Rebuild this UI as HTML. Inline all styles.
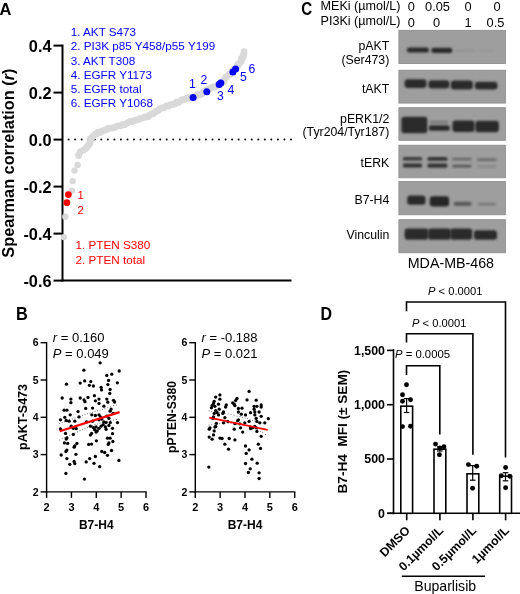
<!DOCTYPE html>
<html><head><meta charset="utf-8"><style>
html,body{margin:0;padding:0;background:#fff;}
svg{display:block;font-family:"Liberation Sans",Arial,sans-serif;}
</style></head><body>
<svg width="520" height="594" viewBox="0 0 520 594">
<rect width="520" height="594" fill="#fff"/>
<text x="-0.4" y="15.1" font-size="16.5" font-weight="bold" >A</text>
<line x1="62.5" y1="44.6" x2="62.5" y2="281.5" stroke="#000" stroke-width="2" />
<line x1="61.5" y1="280.6" x2="291.5" y2="280.6" stroke="#000" stroke-width="2" />
<line x1="53.5" y1="45.6" x2="62.5" y2="45.6" stroke="#000" stroke-width="2" />
<text x="51.5" y="51.7" font-size="16.3" font-weight="bold" text-anchor="end" >0.4</text>
<line x1="53.5" y1="92.6" x2="62.5" y2="92.6" stroke="#000" stroke-width="2" />
<text x="51.5" y="98.69999999999999" font-size="16.3" font-weight="bold" text-anchor="end" >0.2</text>
<line x1="53.5" y1="139.6" x2="62.5" y2="139.6" stroke="#000" stroke-width="2" />
<text x="51.5" y="145.7" font-size="16.3" font-weight="bold" text-anchor="end" >0.0</text>
<line x1="53.5" y1="186.6" x2="62.5" y2="186.6" stroke="#000" stroke-width="2" />
<text x="51.5" y="192.7" font-size="16.3" font-weight="bold" text-anchor="end" >-0.2</text>
<line x1="53.5" y1="233.6" x2="62.5" y2="233.6" stroke="#000" stroke-width="2" />
<text x="51.5" y="239.7" font-size="16.3" font-weight="bold" text-anchor="end" >-0.4</text>
<line x1="53.5" y1="280.6" x2="62.5" y2="280.6" stroke="#000" stroke-width="2" />
<text x="51.5" y="286.70000000000005" font-size="16.3" font-weight="bold" text-anchor="end" >-0.6</text>
<text transform="translate(13.8,163.1) rotate(-90)" font-size="16.3" font-weight="bold" text-anchor="middle">Spearman correlation (<tspan font-style="italic">r</tspan>)</text>
<circle cx="68.6" cy="139.6" r="1.0" fill="#000"/>
<circle cx="75.1" cy="139.6" r="1.0" fill="#000"/>
<circle cx="81.7" cy="139.6" r="1.0" fill="#000"/>
<circle cx="88.2" cy="139.6" r="1.0" fill="#000"/>
<circle cx="94.8" cy="139.6" r="1.0" fill="#000"/>
<circle cx="101.3" cy="139.6" r="1.0" fill="#000"/>
<circle cx="107.8" cy="139.6" r="1.0" fill="#000"/>
<circle cx="114.4" cy="139.6" r="1.0" fill="#000"/>
<circle cx="120.9" cy="139.6" r="1.0" fill="#000"/>
<circle cx="127.5" cy="139.6" r="1.0" fill="#000"/>
<circle cx="134.0" cy="139.6" r="1.0" fill="#000"/>
<circle cx="140.5" cy="139.6" r="1.0" fill="#000"/>
<circle cx="147.1" cy="139.6" r="1.0" fill="#000"/>
<circle cx="153.6" cy="139.6" r="1.0" fill="#000"/>
<circle cx="160.2" cy="139.6" r="1.0" fill="#000"/>
<circle cx="166.7" cy="139.6" r="1.0" fill="#000"/>
<circle cx="173.2" cy="139.6" r="1.0" fill="#000"/>
<circle cx="179.8" cy="139.6" r="1.0" fill="#000"/>
<circle cx="186.3" cy="139.6" r="1.0" fill="#000"/>
<circle cx="192.9" cy="139.6" r="1.0" fill="#000"/>
<circle cx="199.4" cy="139.6" r="1.0" fill="#000"/>
<circle cx="205.9" cy="139.6" r="1.0" fill="#000"/>
<circle cx="212.5" cy="139.6" r="1.0" fill="#000"/>
<circle cx="219.0" cy="139.6" r="1.0" fill="#000"/>
<circle cx="225.6" cy="139.6" r="1.0" fill="#000"/>
<circle cx="232.1" cy="139.6" r="1.0" fill="#000"/>
<circle cx="238.6" cy="139.6" r="1.0" fill="#000"/>
<circle cx="245.2" cy="139.6" r="1.0" fill="#000"/>
<circle cx="251.7" cy="139.6" r="1.0" fill="#000"/>
<circle cx="258.3" cy="139.6" r="1.0" fill="#000"/>
<circle cx="264.8" cy="139.6" r="1.0" fill="#000"/>
<circle cx="271.3" cy="139.6" r="1.0" fill="#000"/>
<circle cx="277.9" cy="139.6" r="1.0" fill="#000"/>
<circle cx="284.4" cy="139.6" r="1.0" fill="#000"/>
<circle cx="291.0" cy="139.6" r="1.0" fill="#000"/>
<circle cx="63.9" cy="237.1" r="3.2" fill="#d9d9d9"/>
<circle cx="65.3" cy="216.7" r="3.2" fill="#d9d9d9"/>
<circle cx="71.9" cy="190.7" r="3.2" fill="#d9d9d9"/>
<circle cx="72.7" cy="181.1" r="3.2" fill="#d9d9d9"/>
<circle cx="74.5" cy="170.6" r="3.2" fill="#d9d9d9"/>
<circle cx="77.6" cy="165.0" r="3.2" fill="#d9d9d9"/>
<circle cx="78.6" cy="155.5" r="3.45" fill="#d9d9d9"/>
<circle cx="80.4" cy="151.7" r="3.45" fill="#d9d9d9"/>
<circle cx="83.2" cy="150.2" r="3.45" fill="#d9d9d9"/>
<circle cx="85.8" cy="148.4" r="3.45" fill="#d9d9d9"/>
<circle cx="87.2" cy="146.8" r="3.45" fill="#d9d9d9"/>
<circle cx="88.8" cy="144.7" r="3.45" fill="#d9d9d9"/>
<circle cx="90.2" cy="142.4" r="3.45" fill="#d9d9d9"/>
<circle cx="90.3" cy="139.2" r="3.45" fill="#d9d9d9"/>
<circle cx="91.5" cy="138.0" r="3.45" fill="#d9d9d9"/>
<circle cx="93.1" cy="136.0" r="3.45" fill="#d9d9d9"/>
<circle cx="95.3" cy="134.2" r="3.45" fill="#d9d9d9"/>
<circle cx="96.8" cy="133.5" r="3.45" fill="#d9d9d9"/>
<circle cx="98.1" cy="132.2" r="3.45" fill="#d9d9d9"/>
<circle cx="100.4" cy="132.3" r="3.45" fill="#d9d9d9"/>
<circle cx="102.3" cy="130.9" r="3.45" fill="#d9d9d9"/>
<circle cx="105.3" cy="129.9" r="3.45" fill="#d9d9d9"/>
<circle cx="107.6" cy="128.8" r="3.45" fill="#d9d9d9"/>
<circle cx="109.5" cy="128.3" r="3.45" fill="#d9d9d9"/>
<circle cx="112.7" cy="127.9" r="3.45" fill="#d9d9d9"/>
<circle cx="114.8" cy="127.3" r="3.45" fill="#d9d9d9"/>
<circle cx="117.4" cy="126.0" r="3.45" fill="#d9d9d9"/>
<circle cx="120.4" cy="125.8" r="3.45" fill="#d9d9d9"/>
<circle cx="122.2" cy="124.8" r="3.45" fill="#d9d9d9"/>
<circle cx="125.0" cy="124.5" r="3.45" fill="#d9d9d9"/>
<circle cx="127.7" cy="122.7" r="3.45" fill="#d9d9d9"/>
<circle cx="130.4" cy="121.5" r="3.45" fill="#d9d9d9"/>
<circle cx="132.2" cy="121.6" r="3.45" fill="#d9d9d9"/>
<circle cx="133.8" cy="120.6" r="3.45" fill="#d9d9d9"/>
<circle cx="135.6" cy="120.3" r="3.45" fill="#d9d9d9"/>
<circle cx="138.4" cy="119.5" r="3.45" fill="#d9d9d9"/>
<circle cx="140.5" cy="118.5" r="3.45" fill="#d9d9d9"/>
<circle cx="142.6" cy="118.1" r="3.45" fill="#d9d9d9"/>
<circle cx="144.8" cy="117.0" r="3.45" fill="#d9d9d9"/>
<circle cx="147.5" cy="116.9" r="3.45" fill="#d9d9d9"/>
<circle cx="149.0" cy="115.4" r="3.45" fill="#d9d9d9"/>
<circle cx="150.5" cy="114.4" r="3.45" fill="#d9d9d9"/>
<circle cx="153.2" cy="113.8" r="3.45" fill="#d9d9d9"/>
<circle cx="155.7" cy="111.5" r="3.45" fill="#d9d9d9"/>
<circle cx="157.4" cy="111.0" r="3.45" fill="#d9d9d9"/>
<circle cx="159.2" cy="109.5" r="3.45" fill="#d9d9d9"/>
<circle cx="161.8" cy="107.9" r="3.45" fill="#d9d9d9"/>
<circle cx="164.1" cy="107.8" r="3.45" fill="#d9d9d9"/>
<circle cx="166.6" cy="105.9" r="3.45" fill="#d9d9d9"/>
<circle cx="168.8" cy="106.1" r="3.45" fill="#d9d9d9"/>
<circle cx="170.3" cy="104.7" r="3.45" fill="#d9d9d9"/>
<circle cx="172.8" cy="104.6" r="3.45" fill="#d9d9d9"/>
<circle cx="175.0" cy="103.8" r="3.45" fill="#d9d9d9"/>
<circle cx="176.5" cy="102.3" r="3.45" fill="#d9d9d9"/>
<circle cx="178.7" cy="102.2" r="3.45" fill="#d9d9d9"/>
<circle cx="181.5" cy="100.2" r="3.45" fill="#d9d9d9"/>
<circle cx="182.7" cy="99.6" r="3.45" fill="#d9d9d9"/>
<circle cx="185.1" cy="99.3" r="3.45" fill="#d9d9d9"/>
<circle cx="187.8" cy="98.3" r="3.45" fill="#d9d9d9"/>
<circle cx="189.4" cy="97.8" r="3.45" fill="#d9d9d9"/>
<circle cx="192.1" cy="97.4" r="3.45" fill="#d9d9d9"/>
<circle cx="194.7" cy="96.8" r="3.45" fill="#d9d9d9"/>
<circle cx="196.0" cy="95.9" r="3.45" fill="#d9d9d9"/>
<circle cx="198.0" cy="94.1" r="3.45" fill="#d9d9d9"/>
<circle cx="200.1" cy="94.5" r="3.45" fill="#d9d9d9"/>
<circle cx="201.9" cy="93.7" r="3.45" fill="#d9d9d9"/>
<circle cx="203.2" cy="92.3" r="3.45" fill="#d9d9d9"/>
<circle cx="204.7" cy="91.8" r="3.45" fill="#d9d9d9"/>
<circle cx="206.5" cy="90.1" r="3.45" fill="#d9d9d9"/>
<circle cx="208.5" cy="89.3" r="3.45" fill="#d9d9d9"/>
<circle cx="210.5" cy="88.3" r="3.45" fill="#d9d9d9"/>
<circle cx="211.9" cy="87.5" r="3.45" fill="#d9d9d9"/>
<circle cx="213.8" cy="86.9" r="3.45" fill="#d9d9d9"/>
<circle cx="215.6" cy="86.8" r="3.45" fill="#d9d9d9"/>
<circle cx="218.1" cy="84.8" r="3.45" fill="#d9d9d9"/>
<circle cx="219.5" cy="84.2" r="3.45" fill="#d9d9d9"/>
<circle cx="221.2" cy="82.2" r="3.45" fill="#d9d9d9"/>
<circle cx="223.4" cy="82.0" r="3.45" fill="#d9d9d9"/>
<circle cx="224.5" cy="79.6" r="3.45" fill="#d9d9d9"/>
<circle cx="225.7" cy="77.4" r="3.45" fill="#d9d9d9"/>
<circle cx="227.5" cy="76.1" r="3.45" fill="#d9d9d9"/>
<circle cx="229.7" cy="74.3" r="3.45" fill="#d9d9d9"/>
<circle cx="230.3" cy="74.0" r="3.45" fill="#d9d9d9"/>
<circle cx="232.5" cy="71.1" r="3.45" fill="#d9d9d9"/>
<circle cx="234.0" cy="69.2" r="3.45" fill="#d9d9d9"/>
<circle cx="235.4" cy="69.0" r="3.45" fill="#d9d9d9"/>
<circle cx="237.2" cy="66.8" r="3.45" fill="#d9d9d9"/>
<circle cx="237.9" cy="64.5" r="3.45" fill="#d9d9d9"/>
<circle cx="239.2" cy="63.4" r="3.45" fill="#d9d9d9"/>
<circle cx="241.0" cy="61.6" r="3.45" fill="#d9d9d9"/>
<circle cx="241.4" cy="58.8" r="3.45" fill="#d9d9d9"/>
<circle cx="242.6" cy="58.1" r="3.45" fill="#d9d9d9"/>
<circle cx="243.3" cy="55.9" r="3.45" fill="#d9d9d9"/>
<circle cx="243.9" cy="53.9" r="3.45" fill="#d9d9d9"/>
<circle cx="244.1" cy="51.6" r="3.3" fill="#d9d9d9"/>
<circle cx="68.4" cy="194.6" r="3.4" fill="#ff0000"/>
<circle cx="66.9" cy="202.7" r="3.4" fill="#ff0000"/>
<text x="77.5" y="198.7" font-size="11.3" fill="#ff0000" >1</text>
<text x="77.5" y="213.6" font-size="11.3" fill="#ff0000" >2</text>
<circle cx="193.1" cy="97.6" r="3.5" fill="#0000ff"/>
<circle cx="206.8" cy="91.8" r="3.5" fill="#0000ff"/>
<circle cx="219.2" cy="84.6" r="3.5" fill="#0000ff"/>
<circle cx="220.8" cy="83.0" r="3.5" fill="#0000ff"/>
<circle cx="232.9" cy="71.9" r="3.5" fill="#0000ff"/>
<circle cx="235.6" cy="69.0" r="3.5" fill="#0000ff"/>
<text x="192.4" y="88.3" font-size="12.2" text-anchor="middle" fill="#0000ff" >1</text>
<text x="204" y="84.3" font-size="12.2" text-anchor="middle" fill="#0000ff" >2</text>
<text x="220.4" y="99.7" font-size="12.2" text-anchor="middle" fill="#0000ff" >3</text>
<text x="231" y="93.5" font-size="12.2" text-anchor="middle" fill="#0000ff" >4</text>
<text x="243.5" y="80.6" font-size="12.2" text-anchor="middle" fill="#0000ff" >5</text>
<text x="252" y="72.7" font-size="12.2" text-anchor="middle" fill="#0000ff" >6</text>
<text x="70.7" y="36.3" font-size="11.7" fill="#0000ff" >1. AKT S473</text>
<text x="70.7" y="50.449999999999996" font-size="11.7" fill="#0000ff" >2. PI3K p85 Y458/p55 Y199</text>
<text x="70.7" y="64.6" font-size="11.7" fill="#0000ff" >3. AKT T308</text>
<text x="70.7" y="78.75" font-size="11.7" fill="#0000ff" >4. EGFR Y1173</text>
<text x="70.7" y="92.9" font-size="11.7" fill="#0000ff" >5. EGFR total</text>
<text x="70.7" y="107.05" font-size="11.7" fill="#0000ff" >6. EGFR Y1068</text>
<text x="75.5" y="249.2" font-size="11.7" fill="#ff0000" >1. PTEN S380</text>
<text x="75.5" y="264.1" font-size="11.7" fill="#ff0000" >2. PTEN total</text>
<text transform="translate(15.9,319.6) scale(1.05,1.2)" font-size="15.5" font-weight="bold">B</text>
<line x1="46.6" y1="342.0" x2="46.6" y2="492.59999999999997" stroke="#000" stroke-width="1.4" />
<line x1="45.9" y1="491.9" x2="146.7" y2="491.9" stroke="#000" stroke-width="1.4" />
<line x1="40.6" y1="342.7" x2="46.6" y2="342.7" stroke="#000" stroke-width="1.4" />
<text x="38.6" y="346.4" font-size="10.5" font-weight="bold" text-anchor="end" >6</text>
<line x1="40.6" y1="380.0" x2="46.6" y2="380.0" stroke="#000" stroke-width="1.4" />
<text x="38.6" y="383.7" font-size="10.5" font-weight="bold" text-anchor="end" >5</text>
<line x1="40.6" y1="417.29999999999995" x2="46.6" y2="417.29999999999995" stroke="#000" stroke-width="1.4" />
<text x="38.6" y="420.99999999999994" font-size="10.5" font-weight="bold" text-anchor="end" >4</text>
<line x1="40.6" y1="454.59999999999997" x2="46.6" y2="454.59999999999997" stroke="#000" stroke-width="1.4" />
<text x="38.6" y="458.29999999999995" font-size="10.5" font-weight="bold" text-anchor="end" >3</text>
<line x1="40.6" y1="491.9" x2="46.6" y2="491.9" stroke="#000" stroke-width="1.4" />
<text x="38.6" y="495.59999999999997" font-size="10.5" font-weight="bold" text-anchor="end" >2</text>
<line x1="46.6" y1="491.9" x2="46.6" y2="497.9" stroke="#000" stroke-width="1.4" />
<text x="46.6" y="511.09999999999997" font-size="11" font-weight="bold" text-anchor="middle" >2</text>
<line x1="71.45" y1="491.9" x2="71.45" y2="497.9" stroke="#000" stroke-width="1.4" />
<text x="71.45" y="511.09999999999997" font-size="11" font-weight="bold" text-anchor="middle" >3</text>
<line x1="96.30000000000001" y1="491.9" x2="96.30000000000001" y2="497.9" stroke="#000" stroke-width="1.4" />
<text x="96.30000000000001" y="511.09999999999997" font-size="11" font-weight="bold" text-anchor="middle" >4</text>
<line x1="121.15" y1="491.9" x2="121.15" y2="497.9" stroke="#000" stroke-width="1.4" />
<text x="121.15" y="511.09999999999997" font-size="11" font-weight="bold" text-anchor="middle" >5</text>
<line x1="146.0" y1="491.9" x2="146.0" y2="497.9" stroke="#000" stroke-width="1.4" />
<text x="146.0" y="511.09999999999997" font-size="11" font-weight="bold" text-anchor="middle" >6</text>
<text x="96.30000000000001" y="529" font-size="12" font-weight="bold" text-anchor="middle" >B7-H4</text>
<text transform="translate(26.8,416.99999999999994) rotate(-90)" font-size="12.5" font-weight="bold" text-anchor="middle">pAKT-S473</text>
<text x="52.800000000000004" y="342.4" font-size="13"><tspan font-style="italic">r</tspan> = 0.160</text>
<text x="52.800000000000004" y="358.2" font-size="13"><tspan font-style="italic">P</tspan> = 0.049</text>
<line x1="195.3" y1="342.0" x2="195.3" y2="492.59999999999997" stroke="#000" stroke-width="1.4" />
<line x1="194.60000000000002" y1="491.9" x2="295.40000000000003" y2="491.9" stroke="#000" stroke-width="1.4" />
<line x1="189.3" y1="342.7" x2="195.3" y2="342.7" stroke="#000" stroke-width="1.4" />
<text x="187.3" y="346.4" font-size="10.5" font-weight="bold" text-anchor="end" >6</text>
<line x1="189.3" y1="380.0" x2="195.3" y2="380.0" stroke="#000" stroke-width="1.4" />
<text x="187.3" y="383.7" font-size="10.5" font-weight="bold" text-anchor="end" >5</text>
<line x1="189.3" y1="417.29999999999995" x2="195.3" y2="417.29999999999995" stroke="#000" stroke-width="1.4" />
<text x="187.3" y="420.99999999999994" font-size="10.5" font-weight="bold" text-anchor="end" >4</text>
<line x1="189.3" y1="454.59999999999997" x2="195.3" y2="454.59999999999997" stroke="#000" stroke-width="1.4" />
<text x="187.3" y="458.29999999999995" font-size="10.5" font-weight="bold" text-anchor="end" >3</text>
<line x1="189.3" y1="491.9" x2="195.3" y2="491.9" stroke="#000" stroke-width="1.4" />
<text x="187.3" y="495.59999999999997" font-size="10.5" font-weight="bold" text-anchor="end" >2</text>
<line x1="195.3" y1="491.9" x2="195.3" y2="497.9" stroke="#000" stroke-width="1.4" />
<text x="195.3" y="511.09999999999997" font-size="11" font-weight="bold" text-anchor="middle" >2</text>
<line x1="220.15" y1="491.9" x2="220.15" y2="497.9" stroke="#000" stroke-width="1.4" />
<text x="220.15" y="511.09999999999997" font-size="11" font-weight="bold" text-anchor="middle" >3</text>
<line x1="245.0" y1="491.9" x2="245.0" y2="497.9" stroke="#000" stroke-width="1.4" />
<text x="245.0" y="511.09999999999997" font-size="11" font-weight="bold" text-anchor="middle" >4</text>
<line x1="269.85" y1="491.9" x2="269.85" y2="497.9" stroke="#000" stroke-width="1.4" />
<text x="269.85" y="511.09999999999997" font-size="11" font-weight="bold" text-anchor="middle" >5</text>
<line x1="294.70000000000005" y1="491.9" x2="294.70000000000005" y2="497.9" stroke="#000" stroke-width="1.4" />
<text x="294.70000000000005" y="511.09999999999997" font-size="11" font-weight="bold" text-anchor="middle" >6</text>
<text x="245.0" y="529" font-size="12" font-weight="bold" text-anchor="middle" >B7-H4</text>
<text transform="translate(175.5,416.99999999999994) rotate(-90)" font-size="12.1" font-weight="bold" text-anchor="middle">pPTEN-S380</text>
<text x="201.5" y="342.4" font-size="13"><tspan font-style="italic">r</tspan> = -0.188</text>
<text x="201.5" y="358.2" font-size="13"><tspan font-style="italic">P</tspan> = 0.021</text>
<circle cx="59.5" cy="423.5" r="0.48" fill="#222"/>
<circle cx="62.1" cy="422.6" r="0.48" fill="#222"/>
<circle cx="64.7" cy="421.7" r="0.48" fill="#222"/>
<circle cx="67.2" cy="420.8" r="0.48" fill="#222"/>
<circle cx="69.8" cy="419.8" r="0.48" fill="#222"/>
<circle cx="72.4" cy="418.9" r="0.48" fill="#222"/>
<circle cx="75.0" cy="418.0" r="0.48" fill="#222"/>
<circle cx="77.5" cy="417.2" r="0.48" fill="#222"/>
<circle cx="80.0" cy="416.3" r="0.48" fill="#222"/>
<circle cx="82.5" cy="415.5" r="0.48" fill="#222"/>
<circle cx="85.0" cy="414.7" r="0.48" fill="#222"/>
<circle cx="87.5" cy="413.8" r="0.48" fill="#222"/>
<circle cx="90.0" cy="413.0" r="0.48" fill="#222"/>
<circle cx="92.5" cy="412.2" r="0.48" fill="#222"/>
<circle cx="95.0" cy="411.5" r="0.48" fill="#222"/>
<circle cx="97.5" cy="410.8" r="0.48" fill="#222"/>
<circle cx="100.0" cy="410.0" r="0.48" fill="#222"/>
<circle cx="102.5" cy="409.2" r="0.48" fill="#222"/>
<circle cx="105.0" cy="408.5" r="0.48" fill="#222"/>
<circle cx="107.9" cy="407.6" r="0.48" fill="#222"/>
<circle cx="110.8" cy="406.7" r="0.48" fill="#222"/>
<circle cx="113.7" cy="405.8" r="0.48" fill="#222"/>
<circle cx="116.6" cy="404.9" r="0.48" fill="#222"/>
<circle cx="59.5" cy="440.0" r="0.48" fill="#222"/>
<circle cx="62.1" cy="438.8" r="0.48" fill="#222"/>
<circle cx="64.7" cy="437.7" r="0.48" fill="#222"/>
<circle cx="67.2" cy="436.5" r="0.48" fill="#222"/>
<circle cx="69.8" cy="435.3" r="0.48" fill="#222"/>
<circle cx="72.4" cy="434.2" r="0.48" fill="#222"/>
<circle cx="75.0" cy="433.0" r="0.48" fill="#222"/>
<circle cx="77.5" cy="431.9" r="0.48" fill="#222"/>
<circle cx="80.0" cy="430.8" r="0.48" fill="#222"/>
<circle cx="82.5" cy="429.8" r="0.48" fill="#222"/>
<circle cx="85.0" cy="428.7" r="0.48" fill="#222"/>
<circle cx="87.5" cy="427.6" r="0.48" fill="#222"/>
<circle cx="90.0" cy="426.5" r="0.48" fill="#222"/>
<circle cx="92.5" cy="425.7" r="0.48" fill="#222"/>
<circle cx="95.0" cy="424.8" r="0.48" fill="#222"/>
<circle cx="97.5" cy="424.0" r="0.48" fill="#222"/>
<circle cx="100.0" cy="423.2" r="0.48" fill="#222"/>
<circle cx="102.5" cy="422.3" r="0.48" fill="#222"/>
<circle cx="105.0" cy="421.5" r="0.48" fill="#222"/>
<circle cx="107.9" cy="421.0" r="0.48" fill="#222"/>
<circle cx="110.8" cy="420.5" r="0.48" fill="#222"/>
<circle cx="113.7" cy="420.0" r="0.48" fill="#222"/>
<circle cx="116.6" cy="419.5" r="0.48" fill="#222"/>
<circle cx="209.0" cy="411.0" r="0.48" fill="#222"/>
<circle cx="211.7" cy="411.4" r="0.48" fill="#222"/>
<circle cx="214.3" cy="411.8" r="0.48" fill="#222"/>
<circle cx="217.0" cy="412.2" r="0.48" fill="#222"/>
<circle cx="219.7" cy="412.7" r="0.48" fill="#222"/>
<circle cx="222.3" cy="413.1" r="0.48" fill="#222"/>
<circle cx="225.0" cy="413.5" r="0.48" fill="#222"/>
<circle cx="228.0" cy="414.1" r="0.48" fill="#222"/>
<circle cx="231.0" cy="414.7" r="0.48" fill="#222"/>
<circle cx="234.0" cy="415.3" r="0.48" fill="#222"/>
<circle cx="237.0" cy="415.9" r="0.48" fill="#222"/>
<circle cx="240.0" cy="416.5" r="0.48" fill="#222"/>
<circle cx="242.5" cy="417.2" r="0.48" fill="#222"/>
<circle cx="245.0" cy="418.0" r="0.48" fill="#222"/>
<circle cx="247.5" cy="418.8" r="0.48" fill="#222"/>
<circle cx="250.0" cy="419.5" r="0.48" fill="#222"/>
<circle cx="252.5" cy="420.2" r="0.48" fill="#222"/>
<circle cx="255.0" cy="421.0" r="0.48" fill="#222"/>
<circle cx="257.6" cy="421.7" r="0.48" fill="#222"/>
<circle cx="260.2" cy="422.4" r="0.48" fill="#222"/>
<circle cx="262.8" cy="423.1" r="0.48" fill="#222"/>
<circle cx="265.4" cy="423.8" r="0.48" fill="#222"/>
<circle cx="209.0" cy="425.0" r="0.48" fill="#222"/>
<circle cx="211.7" cy="424.7" r="0.48" fill="#222"/>
<circle cx="214.3" cy="424.3" r="0.48" fill="#222"/>
<circle cx="217.0" cy="424.0" r="0.48" fill="#222"/>
<circle cx="219.7" cy="423.7" r="0.48" fill="#222"/>
<circle cx="222.3" cy="423.3" r="0.48" fill="#222"/>
<circle cx="225.0" cy="423.0" r="0.48" fill="#222"/>
<circle cx="228.0" cy="423.3" r="0.48" fill="#222"/>
<circle cx="231.0" cy="423.6" r="0.48" fill="#222"/>
<circle cx="234.0" cy="423.9" r="0.48" fill="#222"/>
<circle cx="237.0" cy="424.2" r="0.48" fill="#222"/>
<circle cx="240.0" cy="424.5" r="0.48" fill="#222"/>
<circle cx="243.0" cy="425.2" r="0.48" fill="#222"/>
<circle cx="246.0" cy="425.9" r="0.48" fill="#222"/>
<circle cx="249.0" cy="426.6" r="0.48" fill="#222"/>
<circle cx="252.0" cy="427.3" r="0.48" fill="#222"/>
<circle cx="255.0" cy="428.0" r="0.48" fill="#222"/>
<circle cx="257.6" cy="429.6" r="0.48" fill="#222"/>
<circle cx="260.2" cy="431.2" r="0.48" fill="#222"/>
<circle cx="262.8" cy="432.8" r="0.48" fill="#222"/>
<circle cx="265.4" cy="434.4" r="0.48" fill="#222"/>
<circle cx="100.1" cy="362.8" r="1.65" fill="#000"/>
<circle cx="83.9" cy="370.2" r="1.65" fill="#000"/>
<circle cx="119.2" cy="371.0" r="1.65" fill="#000"/>
<circle cx="106.8" cy="375.4" r="1.65" fill="#000"/>
<circle cx="111.8" cy="374.2" r="1.65" fill="#000"/>
<circle cx="84.7" cy="380.9" r="1.65" fill="#000"/>
<circle cx="80.2" cy="383.1" r="1.65" fill="#000"/>
<circle cx="90.8" cy="381.6" r="1.65" fill="#000"/>
<circle cx="89.4" cy="385.3" r="1.65" fill="#000"/>
<circle cx="93.4" cy="386.0" r="1.65" fill="#000"/>
<circle cx="66.5" cy="384.2" r="1.65" fill="#000"/>
<circle cx="108.6" cy="380.4" r="1.65" fill="#000"/>
<circle cx="107.9" cy="384.6" r="1.65" fill="#000"/>
<circle cx="117.3" cy="382.8" r="1.65" fill="#000"/>
<circle cx="101.1" cy="387.3" r="1.65" fill="#000"/>
<circle cx="101.5" cy="389.9" r="1.65" fill="#000"/>
<circle cx="110.1" cy="389.5" r="1.65" fill="#000"/>
<circle cx="109.8" cy="393.4" r="1.65" fill="#000"/>
<circle cx="62.2" cy="398.0" r="1.65" fill="#000"/>
<circle cx="80.2" cy="398.0" r="1.65" fill="#000"/>
<circle cx="88.0" cy="397.4" r="1.65" fill="#000"/>
<circle cx="94.4" cy="395.7" r="1.65" fill="#000"/>
<circle cx="70.9" cy="399.1" r="1.65" fill="#000"/>
<circle cx="70.9" cy="402.7" r="1.65" fill="#000"/>
<circle cx="84.0" cy="399.8" r="1.65" fill="#000"/>
<circle cx="85.0" cy="401.7" r="1.65" fill="#000"/>
<circle cx="99.0" cy="399.1" r="1.65" fill="#000"/>
<circle cx="95.4" cy="400.8" r="1.65" fill="#000"/>
<circle cx="99.0" cy="403.4" r="1.65" fill="#000"/>
<circle cx="106.8" cy="399.1" r="1.65" fill="#000"/>
<circle cx="107.8" cy="402.2" r="1.65" fill="#000"/>
<circle cx="113.5" cy="400.3" r="1.65" fill="#000"/>
<circle cx="114.6" cy="402.0" r="1.65" fill="#000"/>
<circle cx="64.1" cy="410.2" r="1.65" fill="#000"/>
<circle cx="66.9" cy="410.2" r="1.65" fill="#000"/>
<circle cx="78.0" cy="411.6" r="1.65" fill="#000"/>
<circle cx="85.7" cy="408.4" r="1.65" fill="#000"/>
<circle cx="92.6" cy="408.1" r="1.65" fill="#000"/>
<circle cx="103.9" cy="406.2" r="1.65" fill="#000"/>
<circle cx="111.1" cy="409.1" r="1.65" fill="#000"/>
<circle cx="110.1" cy="411.2" r="1.65" fill="#000"/>
<circle cx="70.2" cy="414.8" r="1.65" fill="#000"/>
<circle cx="91.8" cy="414.8" r="1.65" fill="#000"/>
<circle cx="95.4" cy="415.5" r="1.65" fill="#000"/>
<circle cx="99.0" cy="414.8" r="1.65" fill="#000"/>
<circle cx="100.4" cy="416.9" r="1.65" fill="#000"/>
<circle cx="106.8" cy="416.2" r="1.65" fill="#000"/>
<circle cx="108.9" cy="418.3" r="1.65" fill="#000"/>
<circle cx="113.2" cy="413.3" r="1.65" fill="#000"/>
<circle cx="64.8" cy="417.3" r="1.65" fill="#000"/>
<circle cx="60.5" cy="419.8" r="1.65" fill="#000"/>
<circle cx="66.2" cy="420.5" r="1.65" fill="#000"/>
<circle cx="69.1" cy="421.2" r="1.65" fill="#000"/>
<circle cx="74.8" cy="421.2" r="1.65" fill="#000"/>
<circle cx="79.0" cy="416.9" r="1.65" fill="#000"/>
<circle cx="86.6" cy="421.9" r="1.65" fill="#000"/>
<circle cx="92.6" cy="421.2" r="1.65" fill="#000"/>
<circle cx="99.0" cy="419.8" r="1.65" fill="#000"/>
<circle cx="101.8" cy="419.0" r="1.65" fill="#000"/>
<circle cx="103.9" cy="421.9" r="1.65" fill="#000"/>
<circle cx="106.1" cy="422.6" r="1.65" fill="#000"/>
<circle cx="110.3" cy="422.6" r="1.65" fill="#000"/>
<circle cx="117.5" cy="422.6" r="1.65" fill="#000"/>
<circle cx="71.2" cy="426.2" r="1.65" fill="#000"/>
<circle cx="73.3" cy="428.3" r="1.65" fill="#000"/>
<circle cx="76.2" cy="428.7" r="1.65" fill="#000"/>
<circle cx="90.4" cy="426.2" r="1.65" fill="#000"/>
<circle cx="93.3" cy="427.6" r="1.65" fill="#000"/>
<circle cx="96.1" cy="426.9" r="1.65" fill="#000"/>
<circle cx="94.7" cy="429.7" r="1.65" fill="#000"/>
<circle cx="99.0" cy="428.3" r="1.65" fill="#000"/>
<circle cx="101.1" cy="426.2" r="1.65" fill="#000"/>
<circle cx="103.2" cy="424.7" r="1.65" fill="#000"/>
<circle cx="105.4" cy="426.9" r="1.65" fill="#000"/>
<circle cx="106.1" cy="429.3" r="1.65" fill="#000"/>
<circle cx="108.9" cy="425.4" r="1.65" fill="#000"/>
<circle cx="112.5" cy="428.3" r="1.65" fill="#000"/>
<circle cx="60.5" cy="429.0" r="1.65" fill="#000"/>
<circle cx="65.5" cy="433.4" r="1.65" fill="#000"/>
<circle cx="73.3" cy="434.4" r="1.65" fill="#000"/>
<circle cx="66.9" cy="438.0" r="1.65" fill="#000"/>
<circle cx="66.2" cy="439.1" r="1.65" fill="#000"/>
<circle cx="64.5" cy="442.9" r="1.65" fill="#000"/>
<circle cx="67.7" cy="443.4" r="1.65" fill="#000"/>
<circle cx="76.9" cy="443.4" r="1.65" fill="#000"/>
<circle cx="74.8" cy="445.8" r="1.65" fill="#000"/>
<circle cx="74.1" cy="447.2" r="1.65" fill="#000"/>
<circle cx="90.4" cy="435.1" r="1.65" fill="#000"/>
<circle cx="91.6" cy="433.4" r="1.65" fill="#000"/>
<circle cx="96.1" cy="432.0" r="1.65" fill="#000"/>
<circle cx="97.3" cy="430.8" r="1.65" fill="#000"/>
<circle cx="112.5" cy="433.7" r="1.65" fill="#000"/>
<circle cx="107.5" cy="438.2" r="1.65" fill="#000"/>
<circle cx="110.1" cy="438.2" r="1.65" fill="#000"/>
<circle cx="96.4" cy="440.8" r="1.65" fill="#000"/>
<circle cx="88.7" cy="444.4" r="1.65" fill="#000"/>
<circle cx="91.6" cy="444.1" r="1.65" fill="#000"/>
<circle cx="108.9" cy="442.9" r="1.65" fill="#000"/>
<circle cx="108.2" cy="444.4" r="1.65" fill="#000"/>
<circle cx="112.9" cy="441.5" r="1.65" fill="#000"/>
<circle cx="66.9" cy="450.1" r="1.65" fill="#000"/>
<circle cx="65.9" cy="451.5" r="1.65" fill="#000"/>
<circle cx="61.2" cy="455.0" r="1.65" fill="#000"/>
<circle cx="75.9" cy="454.3" r="1.65" fill="#000"/>
<circle cx="101.8" cy="451.5" r="1.65" fill="#000"/>
<circle cx="104.7" cy="452.5" r="1.65" fill="#000"/>
<circle cx="107.5" cy="455.3" r="1.65" fill="#000"/>
<circle cx="111.5" cy="450.5" r="1.65" fill="#000"/>
<circle cx="95.4" cy="456.5" r="1.65" fill="#000"/>
<circle cx="66.9" cy="458.6" r="1.65" fill="#000"/>
<circle cx="89.7" cy="458.6" r="1.65" fill="#000"/>
<circle cx="86.2" cy="461.9" r="1.65" fill="#000"/>
<circle cx="74.1" cy="461.4" r="1.65" fill="#000"/>
<circle cx="74.8" cy="463.6" r="1.65" fill="#000"/>
<circle cx="69.8" cy="464.3" r="1.65" fill="#000"/>
<circle cx="94.0" cy="463.3" r="1.65" fill="#000"/>
<circle cx="99.7" cy="466.7" r="1.65" fill="#000"/>
<circle cx="118.9" cy="460.4" r="1.65" fill="#000"/>
<circle cx="65.9" cy="473.4" r="1.65" fill="#000"/>
<circle cx="84.4" cy="479.1" r="1.65" fill="#000"/>
<circle cx="249.1" cy="391.4" r="1.65" fill="#000"/>
<circle cx="219.9" cy="394.9" r="1.65" fill="#000"/>
<circle cx="215.7" cy="397.1" r="1.65" fill="#000"/>
<circle cx="219.9" cy="399.2" r="1.65" fill="#000"/>
<circle cx="214.2" cy="401.3" r="1.65" fill="#000"/>
<circle cx="213.5" cy="403.5" r="1.65" fill="#000"/>
<circle cx="218.5" cy="404.2" r="1.65" fill="#000"/>
<circle cx="214.9" cy="406.3" r="1.65" fill="#000"/>
<circle cx="211.4" cy="407.8" r="1.65" fill="#000"/>
<circle cx="212.1" cy="405.6" r="1.65" fill="#000"/>
<circle cx="226.3" cy="404.9" r="1.65" fill="#000"/>
<circle cx="225.6" cy="407.0" r="1.65" fill="#000"/>
<circle cx="219.2" cy="409.2" r="1.65" fill="#000"/>
<circle cx="215.7" cy="410.6" r="1.65" fill="#000"/>
<circle cx="214.2" cy="413.4" r="1.65" fill="#000"/>
<circle cx="217.1" cy="412.7" r="1.65" fill="#000"/>
<circle cx="223.5" cy="412.0" r="1.65" fill="#000"/>
<circle cx="222.8" cy="413.4" r="1.65" fill="#000"/>
<circle cx="218.5" cy="414.9" r="1.65" fill="#000"/>
<circle cx="213.5" cy="417.0" r="1.65" fill="#000"/>
<circle cx="212.8" cy="418.4" r="1.65" fill="#000"/>
<circle cx="224.9" cy="417.7" r="1.65" fill="#000"/>
<circle cx="237.0" cy="398.5" r="1.65" fill="#000"/>
<circle cx="235.6" cy="400.6" r="1.65" fill="#000"/>
<circle cx="232.7" cy="402.8" r="1.65" fill="#000"/>
<circle cx="234.2" cy="404.2" r="1.65" fill="#000"/>
<circle cx="234.9" cy="405.6" r="1.65" fill="#000"/>
<circle cx="238.4" cy="408.5" r="1.65" fill="#000"/>
<circle cx="242.0" cy="408.2" r="1.65" fill="#000"/>
<circle cx="238.4" cy="412.0" r="1.65" fill="#000"/>
<circle cx="241.3" cy="414.2" r="1.65" fill="#000"/>
<circle cx="245.5" cy="414.9" r="1.65" fill="#000"/>
<circle cx="247.0" cy="399.9" r="1.65" fill="#000"/>
<circle cx="256.2" cy="400.2" r="1.65" fill="#000"/>
<circle cx="254.1" cy="406.3" r="1.65" fill="#000"/>
<circle cx="256.9" cy="406.3" r="1.65" fill="#000"/>
<circle cx="261.2" cy="404.9" r="1.65" fill="#000"/>
<circle cx="261.2" cy="407.0" r="1.65" fill="#000"/>
<circle cx="254.1" cy="409.2" r="1.65" fill="#000"/>
<circle cx="254.8" cy="412.0" r="1.65" fill="#000"/>
<circle cx="259.1" cy="412.0" r="1.65" fill="#000"/>
<circle cx="250.5" cy="412.7" r="1.65" fill="#000"/>
<circle cx="254.8" cy="414.9" r="1.65" fill="#000"/>
<circle cx="261.2" cy="416.3" r="1.65" fill="#000"/>
<circle cx="256.2" cy="418.4" r="1.65" fill="#000"/>
<circle cx="268.3" cy="418.7" r="1.65" fill="#000"/>
<circle cx="238.4" cy="419.8" r="1.65" fill="#000"/>
<circle cx="227.8" cy="421.4" r="1.65" fill="#000"/>
<circle cx="223.5" cy="422.8" r="1.65" fill="#000"/>
<circle cx="216.4" cy="423.3" r="1.65" fill="#000"/>
<circle cx="215.7" cy="426.4" r="1.65" fill="#000"/>
<circle cx="214.9" cy="427.1" r="1.65" fill="#000"/>
<circle cx="210.0" cy="427.8" r="1.65" fill="#000"/>
<circle cx="209.2" cy="429.2" r="1.65" fill="#000"/>
<circle cx="214.2" cy="430.9" r="1.65" fill="#000"/>
<circle cx="213.5" cy="434.9" r="1.65" fill="#000"/>
<circle cx="209.2" cy="437.1" r="1.65" fill="#000"/>
<circle cx="212.1" cy="439.2" r="1.65" fill="#000"/>
<circle cx="219.9" cy="438.1" r="1.65" fill="#000"/>
<circle cx="222.1" cy="438.5" r="1.65" fill="#000"/>
<circle cx="229.2" cy="438.5" r="1.65" fill="#000"/>
<circle cx="234.9" cy="439.9" r="1.65" fill="#000"/>
<circle cx="224.9" cy="444.2" r="1.65" fill="#000"/>
<circle cx="228.5" cy="449.2" r="1.65" fill="#000"/>
<circle cx="234.2" cy="429.2" r="1.65" fill="#000"/>
<circle cx="234.9" cy="423.5" r="1.65" fill="#000"/>
<circle cx="237.7" cy="420.7" r="1.65" fill="#000"/>
<circle cx="239.8" cy="423.8" r="1.65" fill="#000"/>
<circle cx="240.6" cy="427.8" r="1.65" fill="#000"/>
<circle cx="242.7" cy="432.1" r="1.65" fill="#000"/>
<circle cx="244.8" cy="422.8" r="1.65" fill="#000"/>
<circle cx="249.1" cy="421.4" r="1.65" fill="#000"/>
<circle cx="250.5" cy="427.1" r="1.65" fill="#000"/>
<circle cx="250.5" cy="428.5" r="1.65" fill="#000"/>
<circle cx="252.7" cy="427.8" r="1.65" fill="#000"/>
<circle cx="254.8" cy="426.4" r="1.65" fill="#000"/>
<circle cx="256.2" cy="427.8" r="1.65" fill="#000"/>
<circle cx="256.9" cy="421.4" r="1.65" fill="#000"/>
<circle cx="259.8" cy="422.8" r="1.65" fill="#000"/>
<circle cx="264.8" cy="422.8" r="1.65" fill="#000"/>
<circle cx="256.9" cy="431.4" r="1.65" fill="#000"/>
<circle cx="261.2" cy="436.3" r="1.65" fill="#000"/>
<circle cx="245.5" cy="446.0" r="1.65" fill="#000"/>
<circle cx="249.1" cy="449.9" r="1.65" fill="#000"/>
<circle cx="246.2" cy="453.4" r="1.65" fill="#000"/>
<circle cx="258.3" cy="444.2" r="1.65" fill="#000"/>
<circle cx="260.5" cy="448.4" r="1.65" fill="#000"/>
<circle cx="251.9" cy="459.2" r="1.65" fill="#000"/>
<circle cx="245.5" cy="463.5" r="1.65" fill="#000"/>
<circle cx="257.2" cy="463.2" r="1.65" fill="#000"/>
<circle cx="208.8" cy="467.1" r="1.65" fill="#000"/>
<circle cx="250.2" cy="468.8" r="1.65" fill="#000"/>
<circle cx="248.4" cy="472.5" r="1.65" fill="#000"/>
<circle cx="259.1" cy="472.8" r="1.65" fill="#000"/>
<circle cx="259.1" cy="478.5" r="1.65" fill="#000"/>
<line x1="59.8" y1="431.2" x2="119.6" y2="412.1" stroke="#ff0000" stroke-width="2.2" />
<line x1="209.3" y1="417.7" x2="267.7" y2="429.9" stroke="#ff0000" stroke-width="1.7" />
<text transform="translate(301.3,14.6) scale(0.98,1.15)" font-size="15.5" font-weight="bold">C</text>
<text x="320.5" y="10.0" font-size="12.6" >MEKi (µmol/L)</text>
<text x="320.5" y="25.4" font-size="12.6" >PI3Ki (µmol/L)</text>
<text x="411.3" y="10.6" font-size="12.8" text-anchor="middle" >0</text>
<text x="437.5" y="10.6" font-size="12.8" text-anchor="middle" >0.05</text>
<text x="468" y="10.6" font-size="12.8" text-anchor="middle" >0</text>
<text x="497" y="10.6" font-size="12.8" text-anchor="middle" >0</text>
<text x="411.3" y="26.7" font-size="12.8" text-anchor="middle" >0</text>
<text x="436.5" y="26.7" font-size="12.8" text-anchor="middle" >0</text>
<text x="468" y="26.7" font-size="12.8" text-anchor="middle" >1</text>
<text x="495.5" y="26.7" font-size="12.8" text-anchor="middle" >0.5</text>
<defs><filter id="bl" x="-20%" y="-50%" width="140%" height="200%"><feGaussianBlur stdDeviation="0.85"/></filter><filter id="bl2" x="-20%" y="-50%" width="140%" height="200%"><feGaussianBlur stdDeviation="0.5"/></filter></defs>
<rect x="398.9" y="30.3" width="106.6" height="33.3" fill="#9e9e9e" stroke="#8a8a8a" stroke-width="0.8"/>
<rect x="398.9" y="70.2" width="106.6" height="32.9" fill="#9e9e9e" stroke="#8a8a8a" stroke-width="0.8"/>
<rect x="398.9" y="107.7" width="106.6" height="32.6" fill="#9e9e9e" stroke="#8a8a8a" stroke-width="0.8"/>
<rect x="398.9" y="145.2" width="106.6" height="32.6" fill="#9e9e9e" stroke="#8a8a8a" stroke-width="0.8"/>
<rect x="398.9" y="181.5" width="106.6" height="33.29999999999999" fill="#9e9e9e" stroke="#8a8a8a" stroke-width="0.8"/>
<rect x="398.9" y="219.7" width="106.6" height="33.1" fill="#9e9e9e" stroke="#8a8a8a" stroke-width="0.8"/>
<rect x="407.0" y="47.5" width="21.9" height="5.0" rx="2.3" fill="#2c2c2c" filter="url(#bl)"/>
<rect x="431.3" y="47.8" width="21.0" height="5.3" rx="2.4" fill="#2c2c2c" filter="url(#bl)"/>
<rect x="455.7" y="49.6" width="18.8" height="2.2" rx="0.9" fill="#939393" filter="url(#bl)"/>
<rect x="479.8" y="49.4" width="14.4" height="2.0" rx="0.8" fill="#969696" filter="url(#bl)"/>
<rect x="404.6" y="79.3" width="21.9" height="8.7" rx="3.2" fill="#2c2c2c" filter="url(#bl)"/>
<rect x="428.4" y="80.3" width="21.0" height="8.1" rx="3.2" fill="#2c2c2c" filter="url(#bl)"/>
<rect x="450.8" y="80.6" width="22.1" height="8.8" rx="3.2" fill="#2c2c2c" filter="url(#bl)"/>
<rect x="474.8" y="81.8" width="22.7" height="7.6" rx="3.2" fill="#2c2c2c" filter="url(#bl)"/>
<rect x="401.4" y="116.7" width="25.9" height="16.5" rx="3.2" fill="#2c2c2c" filter="url(#bl)"/>
<rect x="429.7" y="120.7" width="18.7" height="2.9" rx="1.2" fill="#7a7a7a" filter="url(#bl)"/>
<rect x="428.8" y="125.2" width="21.0" height="5.6" rx="2.6" fill="#2c2c2c" filter="url(#bl)"/>
<rect x="452.4" y="120.4" width="22.2" height="11.6" rx="3.2" fill="#2c2c2c" filter="url(#bl)"/>
<rect x="475.3" y="120.8" width="23.6" height="11.4" rx="3.2" fill="#2c2c2c" filter="url(#bl)"/>
<rect x="402.8" y="156.9" width="19.4" height="3.7" rx="1.7" fill="#3a3a3a" filter="url(#bl)"/>
<rect x="402.8" y="163.6" width="19.4" height="3.9" rx="1.8" fill="#333" filter="url(#bl)"/>
<rect x="427.4" y="157.1" width="20.1" height="3.7" rx="1.6" fill="#333" filter="url(#bl)"/>
<rect x="427.4" y="163.6" width="20.1" height="4.1" rx="1.8" fill="#333" filter="url(#bl)"/>
<rect x="452.1" y="157.7" width="19.4" height="2.9" rx="1.2" fill="#6a6a6a" filter="url(#bl)"/>
<rect x="452.1" y="164.7" width="19.4" height="2.8" rx="1.2" fill="#585858" filter="url(#bl)"/>
<rect x="477.1" y="158.3" width="19.4" height="2.9" rx="1.2" fill="#6e6e6e" filter="url(#bl)"/>
<rect x="477.1" y="165.3" width="19.4" height="2.4" rx="1.0" fill="#888" filter="url(#bl)"/>
<rect x="407.2" y="195.6" width="18.3" height="9.2" rx="3.2" fill="#2c2c2c" filter="url(#bl)"/>
<rect x="429.7" y="196.3" width="19.4" height="10.2" rx="3.2" fill="#262626" filter="url(#bl)"/>
<rect x="453.6" y="201.7" width="18.1" height="4.2" rx="1.9" fill="#5c5c5c" filter="url(#bl)"/>
<rect x="477.7" y="202.4" width="18.1" height="3.3" rx="1.5" fill="#7c7c7c" filter="url(#bl)"/>
<rect x="404.6" y="228.4" width="23.8" height="11.4" rx="3.2" fill="#2c2c2c" filter="url(#bl)"/>
<rect x="427.9" y="228.4" width="23.1" height="11.4" rx="3.2" fill="#2c2c2c" filter="url(#bl)"/>
<rect x="450.2" y="228.6" width="22.1" height="11.2" rx="3.2" fill="#2c2c2c" filter="url(#bl)"/>
<rect x="473.9" y="230.2" width="23.1" height="9.6" rx="3.2" fill="#2c2c2c" filter="url(#bl)"/>
<text x="389.3" y="50.2" font-size="12.3" text-anchor="end" >pAKT</text>
<text x="389.3" y="64.4" font-size="12.3" text-anchor="end" >(Ser473)</text>
<text x="389.3" y="93" font-size="12.3" text-anchor="end" >tAKT</text>
<text x="389.3" y="123.3" font-size="12.3" text-anchor="end" >pERK1/2</text>
<text x="389.3" y="136.4" font-size="12.3" text-anchor="end" >(Tyr204/Tyr187)</text>
<text x="389.3" y="166.7" font-size="12.3" text-anchor="end" >tERK</text>
<text x="389.3" y="203.6" font-size="12.3" text-anchor="end" >B7-H4</text>
<text x="389.3" y="238.6" font-size="12.3" text-anchor="end" >Vinculin</text>
<text x="450.9" y="267.6" font-size="14.25" text-anchor="middle" >MDA-MB-468</text>
<text transform="translate(320.6,319.8) scale(1.03,1.23)" font-size="15.5" font-weight="bold">D</text>
<line x1="393.5" y1="349.0" x2="393.5" y2="514.3" stroke="#000" stroke-width="1.6" />
<line x1="387.5" y1="513.3" x2="520" y2="513.3" stroke="#000" stroke-width="1.6" />
<line x1="387.0" y1="513.3" x2="393.5" y2="513.3" stroke="#000" stroke-width="1.6" />
<text x="385.0" y="517.5999999999999" font-size="12.4" font-weight="bold" text-anchor="end" >0</text>
<line x1="387.0" y1="458.99999999999994" x2="393.5" y2="458.99999999999994" stroke="#000" stroke-width="1.6" />
<text x="385.0" y="463.29999999999995" font-size="12.4" font-weight="bold" text-anchor="end" >500</text>
<line x1="387.0" y1="404.69999999999993" x2="393.5" y2="404.69999999999993" stroke="#000" stroke-width="1.6" />
<text x="385.0" y="408.99999999999994" font-size="12.4" font-weight="bold" text-anchor="end" >1,000</text>
<line x1="387.0" y1="350.4" x2="393.5" y2="350.4" stroke="#000" stroke-width="1.6" />
<text x="385.0" y="354.7" font-size="12.4" font-weight="bold" text-anchor="end" >1,500</text>
<text transform="translate(346.8,431.6) rotate(-90)" font-size="13.6" font-weight="bold" text-anchor="middle" xml:space="preserve">B7-H4  MFI (± SEM)</text>
<rect x="400.8" y="406.2" width="11.8" height="107.09999999999997" fill="#fff" stroke="#000" stroke-width="1.6"/>
<line x1="406.7" y1="513.3" x2="406.7" y2="520.3" stroke="#000" stroke-width="1.6" />
<rect x="434.0" y="449.2" width="11.8" height="64.09999999999997" fill="#fff" stroke="#000" stroke-width="1.6"/>
<line x1="439.9" y1="513.3" x2="439.9" y2="520.3" stroke="#000" stroke-width="1.6" />
<rect x="467.0" y="473.8" width="11.8" height="39.49999999999994" fill="#fff" stroke="#000" stroke-width="1.6"/>
<line x1="472.9" y1="513.3" x2="472.9" y2="520.3" stroke="#000" stroke-width="1.6" />
<rect x="499.70000000000005" y="476.2" width="11.8" height="37.099999999999966" fill="#fff" stroke="#000" stroke-width="1.6"/>
<line x1="505.6" y1="513.3" x2="505.6" y2="520.3" stroke="#000" stroke-width="1.6" />
<line x1="406.6" y1="398.6" x2="406.6" y2="412.5" stroke="#000" stroke-width="1.2" />
<line x1="403.8" y1="398.6" x2="409.40000000000003" y2="398.6" stroke="#000" stroke-width="1.2" />
<line x1="403.8" y1="412.5" x2="409.40000000000003" y2="412.5" stroke="#000" stroke-width="1.2" />
<line x1="439.8" y1="446.8" x2="439.8" y2="451.0" stroke="#000" stroke-width="1.2" />
<line x1="437.0" y1="446.8" x2="442.6" y2="446.8" stroke="#000" stroke-width="1.2" />
<line x1="437.0" y1="451.0" x2="442.6" y2="451.0" stroke="#000" stroke-width="1.2" />
<line x1="472.7" y1="465.6" x2="472.7" y2="480.2" stroke="#000" stroke-width="1.2" />
<line x1="469.9" y1="465.6" x2="475.5" y2="465.6" stroke="#000" stroke-width="1.2" />
<line x1="469.9" y1="480.2" x2="475.5" y2="480.2" stroke="#000" stroke-width="1.2" />
<line x1="505.5" y1="472.7" x2="505.5" y2="480.8" stroke="#000" stroke-width="1.2" />
<line x1="502.7" y1="472.7" x2="508.3" y2="472.7" stroke="#000" stroke-width="1.2" />
<line x1="502.7" y1="480.8" x2="508.3" y2="480.8" stroke="#000" stroke-width="1.2" />
<circle cx="406.5" cy="384.8" r="2.45" fill="#000"/>
<circle cx="402.5" cy="394.8" r="2.45" fill="#000"/>
<circle cx="402.5" cy="401.2" r="2.45" fill="#000"/>
<circle cx="410.5" cy="399.8" r="2.45" fill="#000"/>
<circle cx="402.5" cy="426.6" r="2.45" fill="#000"/>
<circle cx="410.5" cy="426.2" r="2.45" fill="#000"/>
<circle cx="435.5" cy="444.1" r="2.45" fill="#000"/>
<circle cx="439.8" cy="448.0" r="2.45" fill="#000"/>
<circle cx="444.0" cy="446.8" r="2.45" fill="#000"/>
<circle cx="439.4" cy="454.8" r="2.45" fill="#000"/>
<circle cx="468.4" cy="464.6" r="2.45" fill="#000"/>
<circle cx="476.7" cy="466.2" r="2.45" fill="#000"/>
<circle cx="472.6" cy="488.2" r="2.45" fill="#000"/>
<circle cx="505.6" cy="467.5" r="2.45" fill="#000"/>
<circle cx="501.3" cy="475.8" r="2.45" fill="#000"/>
<circle cx="509.8" cy="476.3" r="2.45" fill="#000"/>
<circle cx="505.6" cy="487.7" r="2.45" fill="#000"/>
<polyline points="406.5,311.3 406.5,302 505.5,302 505.5,457.5" fill="none" stroke="#000" stroke-width="1.6"/>
<polyline points="406.5,342.5 406.5,333.8 472.9,333.8 472.9,454.8" fill="none" stroke="#000" stroke-width="1.6"/>
<polyline points="406.5,375 406.5,365.8 439.8,365.8 439.8,434.6" fill="none" stroke="#000" stroke-width="1.6"/>
<text x="428" y="294.5" font-size="11.2"><tspan font-style="italic">P</tspan> &lt; 0.0001</text>
<text x="412" y="327" font-size="11.2"><tspan font-style="italic">P</tspan> &lt; 0.0001</text>
<text x="395" y="358.3" font-size="11.3"><tspan font-style="italic">P</tspan> = 0.0005</text>
<text transform="translate(410.8,531.3) rotate(-45)" font-size="12.3" font-weight="bold" text-anchor="end">DMSO</text>
<text transform="translate(444.0,531.3) rotate(-45)" font-size="12.3" font-weight="bold" text-anchor="end">0.1µmol/L</text>
<text transform="translate(477.09999999999997,531.3) rotate(-45)" font-size="12.3" font-weight="bold" text-anchor="end">0.5µmol/L</text>
<text transform="translate(509.9,531.3) rotate(-45)" font-size="12.3" font-weight="bold" text-anchor="end">1µmol/L</text>
<line x1="401.8" y1="576.3" x2="485" y2="576.3" stroke="#000" stroke-width="1.5" />
<text x="445.2" y="590.6" font-size="14.1" text-anchor="middle" >Buparlisib</text>
</svg></body></html>
